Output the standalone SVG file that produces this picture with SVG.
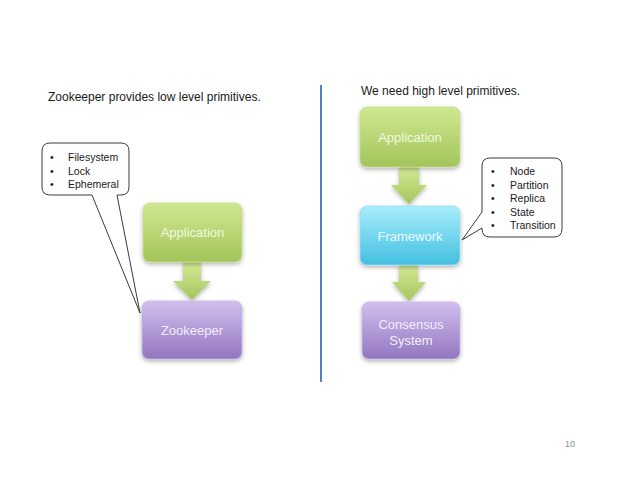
<svg xmlns="http://www.w3.org/2000/svg" width="638" height="493" viewBox="0 0 638 493">
<style>
text{font-family:"Liberation Sans",Arial,sans-serif}
.head{font-size:12px;fill:#1a1a1a}
.bl{font-size:10.5px;fill:#1a1a1a}
.box{font-size:13px;text-anchor:middle}
.call{fill:#fff;stroke:#3a3a3a;stroke-width:1}
.g{fill:url(#gGreen);stroke:#c6de92;stroke-width:0.8}
.b{fill:url(#gBlue);stroke:#9fe0f2;stroke-width:0.8}
.p{fill:url(#gPurple);stroke:#c8b6e4;stroke-width:0.8}
.arr{fill:url(#gArrow)}
</style>
<defs>
<linearGradient id="gGreen" x1="0" y1="0" x2="0" y2="1"><stop offset="0" stop-color="#d0e890"/><stop offset="1" stop-color="#a2c45a"/></linearGradient>
<linearGradient id="gBlue" x1="0" y1="0" x2="0" y2="1"><stop offset="0" stop-color="#a8eefb"/><stop offset="1" stop-color="#43bfe0"/></linearGradient>
<linearGradient id="gPurple" x1="0" y1="0" x2="0" y2="1"><stop offset="0" stop-color="#d2bfee"/><stop offset="1" stop-color="#9276c0"/></linearGradient>
<linearGradient id="gArrow" x1="0" y1="0" x2="0" y2="1"><stop offset="0" stop-color="#d3ea95"/><stop offset="1" stop-color="#a4c65c"/></linearGradient>
<filter id="sh" x="-20%" y="-20%" width="140%" height="150%"><feDropShadow dx="0" dy="2" stdDeviation="2" flood-color="#000" flood-opacity="0.3"/></filter>
</defs>
<rect width="638" height="493" fill="#fff"/>
<text class="head" x="48" y="101">Zookeeper provides low level primitives.</text>
<text class="head" x="361" y="95">We need high level primitives.</text>
<line x1="321" y1="85" x2="321" y2="382" stroke="#4f81bd" stroke-width="2"/>
<g id="connectors">
<polygon class="arr" filter="url(#sh)" points="183,262 201,262 201,281 211,281 192,300 173,281 183,281"/>
<polygon class="arr" filter="url(#sh)" points="399,167 419,167 419,185 427,185 409,204 391,185 399,185"/>
<polygon class="arr" filter="url(#sh)" points="399,265 418,265 418,282 426,282 409,301 392,282 399,282"/>
</g>
<g id="callout-left">
<path class="call" d="M50,143 H121 Q129,143 129,151 V187 Q129,195 121,195 H117 L140,313 L92,195 H50 Q42,195 42,187 V151 Q42,143 50,143 Z"/>
<text class="bl" x="50" y="161">•</text><text class="bl" x="68" y="161">Filesystem</text>
<text class="bl" x="50" y="175">•</text><text class="bl" x="68" y="175">Lock</text>
<text class="bl" x="50" y="188">•</text><text class="bl" x="68" y="188">Ephemeral</text>
</g>
<g id="app-left">
<rect class="g" filter="url(#sh)" x="143" y="203" width="99" height="59" rx="7"/>
<text class="box" x="192.5" y="237" fill="#f2f8e2">Application</text>
</g>
<g id="zookeeper">
<rect class="p" filter="url(#sh)" x="142" y="301" width="100" height="58" rx="7"/>
<text class="box" x="192" y="335" fill="#f3eefa">Zookeeper</text>
</g>
<g id="app-right">
<rect class="g" filter="url(#sh)" x="360" y="107" width="100" height="60" rx="7"/>
<text class="box" x="410" y="142" fill="#f2f8e2">Application</text>
</g>
<g id="framework">
<rect class="b" filter="url(#sh)" x="360" y="206" width="100" height="59" rx="7"/>
<text class="box" x="410" y="241" fill="#eafafe">Framework</text>
</g>
<g id="consensus">
<rect class="p" filter="url(#sh)" x="362" y="302" width="98" height="57" rx="7"/>
<text class="box" x="411" y="329" fill="#f3eefa">Consensus</text>
<text class="box" x="411" y="345" fill="#f3eefa">System</text>
</g>
<g id="callout-right">
<path class="call" d="M490,158 H554 Q562,158 562,166 V229 Q562,237 554,237 H490 Q482,237 482,229 V228 L462,240 L482,212 V166 Q482,158 490,158 Z"/>
<text class="bl" x="491" y="175">•</text><text class="bl" x="510" y="175">Node</text>
<text class="bl" x="491" y="188.5">•</text><text class="bl" x="510" y="188.5">Partition</text>
<text class="bl" x="491" y="202">•</text><text class="bl" x="510" y="202">Replica</text>
<text class="bl" x="491" y="215.5">•</text><text class="bl" x="510" y="215.5">State</text>
<text class="bl" x="491" y="229">•</text><text class="bl" x="510" y="229">Transition</text>
</g>
<text x="565" y="447" font-size="9" fill="#8c8c8c" style="font-family:'Liberation Sans',Arial,sans-serif">10</text>
</svg>
